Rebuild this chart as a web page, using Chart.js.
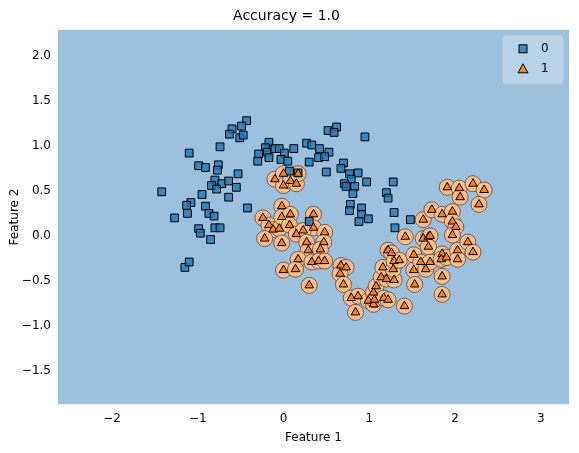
<!DOCTYPE html>
<html><head><meta charset="utf-8">
<script src="https://cdn.jsdelivr.net/npm/chart.js@4"></script>
<style>html,body{margin:0;padding:0;background:#fff}#w{width:579px;height:453px}</style>
</head><body><div id="w"><canvas id="c"></canvas></div>
<script>
const class0 = [[-0.43,1.28],[-0.49,1.22],[-0.60,1.19],[-0.63,1.13],[-0.51,1.09],[-0.47,1.12],[-0.74,0.99],[-1.10,0.92],[-0.99,0.78],[-0.91,0.76],[-0.76,0.79],[-0.77,0.73],[-0.53,0.69],[-1.42,0.49],[-0.80,0.62],[-0.84,0.56],[-0.72,0.58],[-0.64,0.61],[-0.55,0.54],[-0.78,0.52],[-0.95,0.46],[-0.64,0.43],[-1.08,0.37],[-1.13,0.34],[-1.12,0.25],[-0.91,0.33],[-0.87,0.25],[-0.81,0.22],[-1.27,0.20],[-0.42,0.31],[-0.99,0.08],[-0.97,0.03],[-0.80,0.09],[-0.74,0.09],[-0.85,-0.04],[-1.15,-0.35],[-1.10,-0.29],[-0.17,1.04],[-0.21,0.98],[-0.29,0.91],[-0.30,0.83],[-0.19,0.93],[-0.17,0.87],[-0.10,0.97],[-0.05,0.97],[0.01,0.92],[0.12,0.97],[-0.03,0.85],[0.05,0.83],[0.07,0.72],[0.17,0.70],[0.27,1.03],[0.33,1.01],[0.42,0.97],[0.53,0.93],[0.41,0.87],[0.48,0.88],[0.30,0.82],[0.50,0.71],[0.52,1.17],[0.62,1.21],[0.59,1.15],[0.95,1.10],[0.70,0.81],[0.67,0.75],[0.77,0.69],[0.87,0.70],[0.79,0.63],[0.71,0.58],[0.83,0.55],[0.97,0.60],[0.73,0.55],[0.81,0.47],[0.78,0.35],[0.77,0.28],[0.91,0.31],[0.91,0.24],[0.99,0.19],[0.88,0.16],[1.20,0.48],[1.22,0.42],[1.28,0.60],[1.29,0.26],[1.30,0.09],[1.48,0.18],[0.30,0.16]];
const class1 = [[-0.10,0.63],[0.00,0.69],[0.00,0.56],[0.08,0.61],[0.15,0.58],[0.17,0.69],[-0.02,0.33],[-0.24,0.20],[-0.17,0.12],[-0.12,0.07],[-0.05,0.08],[-0.02,0.21],[0.08,0.24],[0.07,0.12],[0.35,0.24],[0.35,0.09],[-0.22,-0.03],[-0.02,-0.08],[0.15,0.02],[0.23,0.06],[0.27,-0.07],[0.29,-0.16],[0.48,0.04],[0.47,-0.07],[0.43,-0.15],[0.17,-0.26],[0.33,-0.29],[0.41,-0.28],[0.48,-0.28],[0.00,-0.38],[0.14,-0.37],[0.30,-0.55],[0.67,-0.33],[0.73,-0.35],[0.66,-0.42],[0.70,-0.54],[0.79,-0.69],[0.87,-0.67],[0.84,-0.85],[0.99,-0.72],[1.05,-0.76],[1.05,-0.63],[1.08,-0.56],[1.06,-0.71],[1.17,-0.69],[1.22,-0.71],[1.41,-0.78],[1.14,-0.46],[1.20,-0.48],[1.29,-0.49],[1.16,-0.35],[1.28,-0.37],[1.22,-0.16],[1.26,-0.19],[1.29,-0.28],[1.35,-0.27],[1.42,-0.01],[1.52,-0.21],[1.52,-0.38],[1.53,-0.54],[1.60,-0.29],[1.66,-0.37],[1.71,-0.29],[1.63,-0.03],[1.69,-0.01],[1.71,0.00],[1.69,-0.12],[1.63,0.18],[1.73,0.29],[1.85,0.24],[1.97,0.27],[1.97,0.16],[2.01,0.10],[1.97,0.01],[1.85,-0.20],[1.84,-0.26],[1.90,-0.24],[2.03,-0.16],[2.03,-0.26],[2.15,-0.07],[2.21,-0.18],[1.85,-0.45],[1.85,-0.65],[1.91,0.54],[2.05,0.53],[2.06,0.43],[2.21,0.58],[2.34,0.51],[2.28,0.35]];
const xTicks = [-2,-1,0,1,2,3];
const yTicks = [-1.5,-1.0,-0.5,0.0,0.5,1.0,1.5,2.0];
const toPts = a => a.map(p => ({x:p[0], y:p[1]}));
const F = "'DejaVu Sans', sans-serif";
const bg = {id:'bg', beforeDatasetsDraw(ch){const a=ch.chartArea,c=ch.ctx;c.save();c.fillStyle='#9bc1df';c.fillRect(a.left,a.top,a.right-a.left,a.bottom-a.top);c.restore();}};
const leg = {id:'leg', afterDraw(ch){const a=ch.chartArea,c=ch.ctx;c.save();
 const x=a.right-66,y=a.top+6;c.fillStyle='rgba(255,255,255,0.3)';c.strokeStyle='rgba(204,204,204,0.8)';c.lineWidth=1;
 c.beginPath();c.roundRect(x,y,60,48,3);c.fill();c.stroke();
 c.fillStyle='rgba(31,119,180,0.8)';c.strokeStyle='#000';c.fillRect(x+16,y+9,8,8);c.strokeRect(x+16,y+9,8,8);
 c.fillStyle='rgba(255,127,14,0.9)';c.beginPath();c.moveTo(x+20,y+28);c.lineTo(x+25,y+37);c.lineTo(x+15,y+37);c.closePath();c.fill();c.stroke();
 c.fillStyle='#000';c.font='12px '+F;c.textBaseline='middle';c.fillText('0',x+38,y+13);c.fillText('1',x+38,y+33);c.restore();}};
new Chart(document.getElementById('c'),{
 type:'scatter',
 data:{datasets:[
  {label:'0',order:2,data:toPts(class0),pointStyle:'rect',pointRadius:5.5,backgroundColor:'rgba(31,119,180,0.8)',borderColor:'#000',borderWidth:1},
  {label:'test',order:3,data:toPts(class1),pointStyle:'circle',pointRadius:8,backgroundColor:'rgba(255,190,140,1)',borderColor:'rgba(90,70,60,0.8)',borderWidth:1},
  {label:'1',order:1,data:toPts(class1),pointStyle:'triangle',pointRadius:5,backgroundColor:'rgba(255,127,14,0.9)',borderColor:'#000',borderWidth:1}
 ]},
 options:{responsive:true,maintainAspectRatio:false,animation:false,
  layout:{padding:{top:0,right:10,left:4,bottom:4}},
  plugins:{legend:{display:false},tooltip:{enabled:false},
   title:{display:true,text:'Accuracy = 1.0',color:'#000',font:{family:F,size:14,weight:'normal'},padding:{top:8,bottom:5}}},
  scales:{
   x:{type:'linear',min:-2.63,max:3.33,afterBuildTicks:ax=>{ax.ticks=xTicks.map(v=>({value:v}));},
    grid:{display:false,drawTicks:true,tickLength:4,tickColor:'#000'},border:{display:false},
    ticks:{color:'#000',font:{family:F,size:12},padding:3,callback:v=>String(v).replace('-','\u2212')},
    title:{display:true,text:'Feature 1',color:'#000',font:{family:F,size:12},padding:{top:2}}},
   y:{type:'linear',min:-1.87,max:2.29,afterBuildTicks:ax=>{ax.ticks=yTicks.map(v=>({value:v}));},
    afterFit:ax=>{ax.width=54;},
    grid:{display:false,drawTicks:true,tickLength:4,tickColor:'#000'},border:{display:false},
    ticks:{color:'#000',font:{family:F,size:12},padding:3,callback:v=>v.toFixed(1).replace('-','\u2212')},
    title:{display:true,text:'Feature 2',color:'#000',font:{family:F,size:12},padding:{bottom:4}}}
  }}
 ,plugins:[bg,leg]});
</script></body></html>
